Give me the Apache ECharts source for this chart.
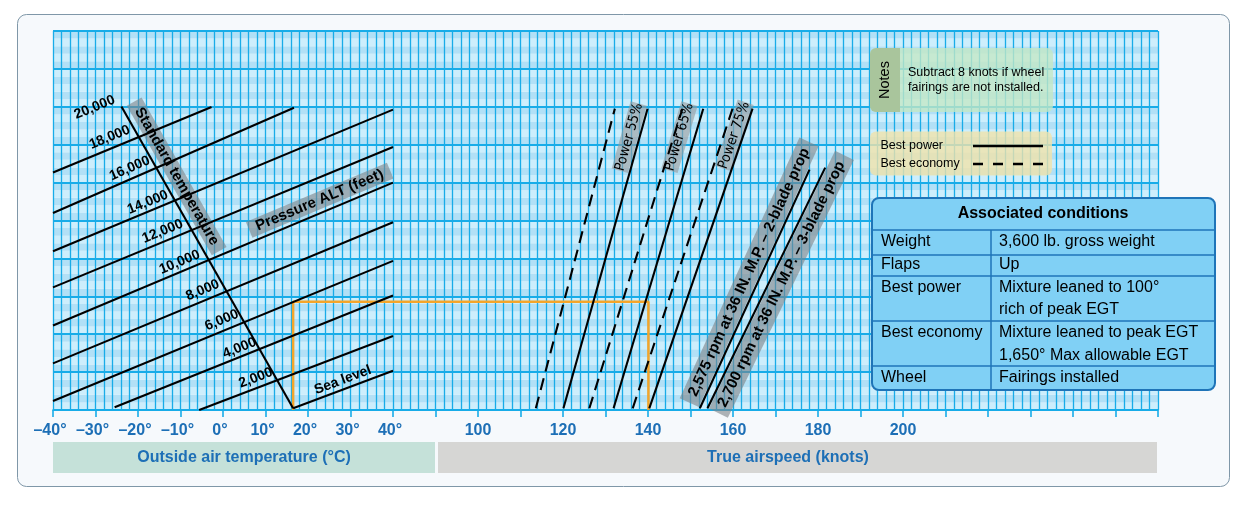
<!DOCTYPE html>
<html><head><meta charset="utf-8">
<script src="https://cdn.jsdelivr.net/npm/echarts@6/dist/echarts.min.js"></script>
<style>html,body{margin:0;padding:0;background:#fff}#c{width:1245px;height:509px}</style>
</head><body><div id="c"></div>
<script>
// ---------------- DATA ----------------
const tempTicks = [-40, -30, -20, -10, 0, 10, 20, 30, 40];          // °C
const knotTicks = [100, 120, 140, 160, 180, 200];                    // knots
// Pressure altitude lines: [temperature °C, density altitude ft]
const altNames = ['18,000', '16,000', '14,000', '12,000', '10,000', '8,000', '6,000', '4,000', '2,000', 'Sea level'];
const altLineStart = [[-40, 12530], [-40, 10400], [-40, 8380], [-40, 6470], [-40, 4460], [-40, 2460], [-40, 470], [-25.5, 140], [-5.6, 0], [16.5, 90]];
const altLineEnd = [[-2.7, 15990], [16.7, 15950], [40, 15850], [40, 13880], [40, 12000], [40, 9910], [40, 7870], [40, 6040], [40, 3900], [40, 2070]];
const stdTempLine = [[-23.9, 16020], [16.5, 90]];
// Power lines: [knots] at bottom / top of altitude range
const powerNames = ['Power 55%', 'Power 65%', 'Power 75%'];
const powerAltRange = [90, 15900];
const bestPowerBottom = [120.1, 131.9, 140.3];
const bestPowerTop = [139.9, 153.0, 164.6];
const bestEconBottom = [113.6, 126.2, 136.4];
const bestEconTop = [132.2, 148.1, 159.9];
// Full-throttle lines: [knots, density altitude ft]
const rpmNames = ['2,575 rpm at 36 IN. M.P. \u2013 2-blade prop', '2,700 rpm at 36 IN. M.P. \u2013 3-blade prop'];
const rpmStart = [[152.2, 90], [154.0, 90]];
const rpmEnd = [[178.0, 12685], [181.7, 12790]];
// Example path
const exampleTemp = 16.5, exampleAlt = 5710, exampleKnots = 140.1;

// ---------------- CONFIG ----------------
const TEMP_MIN = -40, TEMP_MAX = 220, KNOT_MIN = 0, KNOT_MAX = 260;
const KNOT_OFFSET = KNOT_MIN - TEMP_MIN;
const GRID = '#18ace8', BLUE = '#1d6fb6';
const FONT = '"Liberation Sans", Arial, sans-serif';
const NARROW = '"Liberation Sans Narrow", "DejaVu Sans Condensed", sans-serif';

const chart = echarts.init(document.getElementById('c'));
const lineBase = { type: 'line', symbol: 'none', silent: true, animation: false, z: 3, yAxisIndex: 0 };
const series = [];
series.push(Object.assign({}, lineBase, {
  xAxisIndex: 1, z: 2,
  data: [[exampleTemp + KNOT_OFFSET, 0], [exampleTemp + KNOT_OFFSET, exampleAlt], [exampleKnots, exampleAlt], [exampleKnots, 0]],
  lineStyle: { color: '#f4a52a', width: 2.5 }
}));
altNames.forEach((n, i) => series.push(Object.assign({}, lineBase, {
  xAxisIndex: 0, data: [altLineStart[i], altLineEnd[i]], lineStyle: { color: '#000', width: 2.1 }
})));
series.push(Object.assign({}, lineBase, { xAxisIndex: 0, data: stdTempLine, lineStyle: { color: '#000', width: 2.1 } }));
powerNames.forEach((n, i) => {
  series.push(Object.assign({}, lineBase, { xAxisIndex: 1,
    data: [[bestPowerBottom[i], powerAltRange[0]], [bestPowerTop[i], powerAltRange[1]]],
    lineStyle: { color: '#000', width: 2.1 } }));
  series.push(Object.assign({}, lineBase, { xAxisIndex: 1,
    data: [[bestEconBottom[i], powerAltRange[0]], [bestEconTop[i], powerAltRange[1]]],
    lineStyle: { color: '#000', width: 2.1, type: [12, 7] } }));
});
rpmNames.forEach((n, i) => series.push(Object.assign({}, lineBase, {
  xAxisIndex: 1, data: [rpmStart[i], rpmEnd[i]], lineStyle: { color: '#000', width: 2.1 }
})));

const labelStyle = { color: BLUE, fontWeight: 'bold', fontSize: 16, fontFamily: FONT, margin: 13 };
chart.setOption({
  backgroundColor: '#ffffff',
  animation: false,
  grid: { left: 53, right: 87, top: 31, bottom: 99, containLabel: false },
  xAxis: [
    { type: 'value', min: TEMP_MIN, max: TEMP_MAX, interval: 10, position: 'bottom', z: 1,
      axisLine: { show: true, lineStyle: { color: GRID, width: 1.6 } },
      axisTick: { show: true, length: 7, lineStyle: { color: GRID, width: 1.6 } },
      splitLine: { show: true, lineStyle: { color: GRID, width: 1.3 } },
      minorTick: { show: false, splitNumber: 5 },
      minorSplitLine: { show: true, lineStyle: { color: GRID, width: 1.3 } },
      axisLabel: Object.assign({}, labelStyle, { padding: [0, 6, 0, 0],
        formatter: v => tempTicks.indexOf(v) >= 0 ? (v < 0 ? '\u2013' + (-v) : v) + '\u00b0' : '' }) },
    { type: 'value', min: KNOT_MIN, max: KNOT_MAX, interval: 10, position: 'bottom', z: 1,
      axisLine: { show: false }, axisTick: { show: false }, splitLine: { show: false },
      axisLabel: Object.assign({}, labelStyle, { formatter: v => knotTicks.indexOf(v) >= 0 ? String(v) : '' }) }
  ],
  yAxis: [
    { type: 'value', min: 0, max: 20000, interval: 2000, z: 1,
      axisLine: { show: false }, axisTick: { show: false }, axisLabel: { show: false },
      splitLine: { show: true, lineStyle: { color: GRID, width: 1.8 } } },
    { type: 'value', min: 0, max: 20000, interval: 400, z: 0,
      axisLine: { show: false }, axisTick: { show: false }, axisLabel: { show: false },
      splitLine: { show: false },
      splitArea: { show: true, areaStyle: { color: ['#cdeefc', '#b2e0f6'] } } }
  ],
  series: series
});

// ---------------- ANNOTATIONS ----------------
function toPx(xi, pt) { return chart.convertToPixel({ xAxisIndex: xi, yAxisIndex: 0 }, pt); }
function angleOf(xi, a, b) { const p = toPx(xi, a), q = toPx(xi, b); return Math.atan2(-(q[1] - p[1]), q[0] - p[0]); }
const g = [];
function rotLabel(xi, at, ang, text, font, box) {
  const c = toPx(xi, at);
  const children = [];
  if (box) children.push({ type: 'rect', z: 2, silent: true,
    shape: { x: -box[0] / 2, y: -box[1] / 2, width: box[0], height: box[1] }, style: { fill: box[2] } });
  children.push({ type: 'text', z: 4, silent: true,
    style: { text: text, font: font, fill: '#000', align: 'center', verticalAlign: 'middle', textAlign: 'center', textVerticalAlign: 'middle' } });
  g.push({ type: 'group', x: c[0], y: c[1], rotation: ang, silent: true, children: children });
}
// frame
g.push({ type: 'rect', z: -10, silent: true, shape: { x: 17.5, y: 14.5, width: 1212, height: 472, r: 9 },
  style: { fill: '#f6f9fc', stroke: '#7f97a8', lineWidth: 1 } });
// altitude labels
const altLabelNames = ['20,000'].concat(altNames);
const altLabelAt = [[-30.2, 15970], [-26.65, 14390], [-21.95, 12750], [-17.7, 10960], [-14.2, 9430], [-10.2, 7800], [-4.8, 6320], [-0.3, 4740], [3.9, 3270], [7.7, 1690], [28.2, 1580]];
altLabelNames.forEach((n, i) => {
  const li = Math.max(0, i - 1);
  rotLabel(0, altLabelAt[i], angleOf(0, altLineStart[li], altLineEnd[li]), n, 'bold 14px ' + FONT, null);
});
const DARKBOX = 'rgba(125,130,135,0.6)';
rotLabel(0, [-10.9, 12330], angleOf(0, stdTempLine[0], stdTempLine[1]), 'Standard temperature', 'bold 15px ' + FONT, [172, 17, DARKBOX]);
rotLabel(0, [22.75, 11070], angleOf(0, altLineStart[4], altLineEnd[4]), 'Pressure ALT (feet)', 'bold 15px ' + FONT, [153, 17, DARKBOX]);
const powerLabelAt = [[135.6, 14400], [147.4, 14400], [160.3, 14490]];
powerNames.forEach((n, i) => {
  const ang = angleOf(1, [bestPowerBottom[i], powerAltRange[0]], [bestPowerTop[i], powerAltRange[1]]);
  rotLabel(1, powerLabelAt[i], ang, n, '14px ' + NARROW, [70, 17, 'rgba(150,155,158,0.62)']);
});
const rpmLabelAt = [[163.8, 7270], [171.4, 6640]];
rpmNames.forEach((n, i) => rotLabel(1, rpmLabelAt[i], angleOf(1, rpmStart[i], rpmEnd[i]), n, 'bold 15px ' + FONT, [287, 21, DARKBOX]));

// bottom title bars
g.push({ type: 'rect', z: 1, silent: true, shape: { x: 53, y: 442, width: 382, height: 31 }, style: { fill: '#c5e1d9' } });
g.push({ type: 'rect', z: 1, silent: true, shape: { x: 438, y: 442, width: 719, height: 31 }, style: { fill: '#d6d6d4' } });
function txt(x, y, text, font, color, align) {
  g.push({ type: 'text', x: x, y: y, z: 6, silent: true,
    style: { text: text, font: font, fill: color || '#000', align: align || 'left', verticalAlign: 'middle', textAlign: align || 'left', textVerticalAlign: 'middle' } });
}
txt(244, 457.5, 'Outside air temperature (\u00b0C)', 'bold 16px ' + FONT, BLUE, 'center');
txt(788, 457.5, 'True airspeed (knots)', 'bold 16px ' + FONT, BLUE, 'center');

// notes box
g.push({ type: 'rect', z: 5, silent: true, shape: { x: 870, y: 48, width: 183, height: 64, r: 6 }, style: { fill: 'rgba(196,232,196,0.78)' } });
g.push({ type: 'rect', z: 5, silent: true, shape: { x: 870, y: 48, width: 30, height: 64, r: [6, 0, 0, 6] }, style: { fill: '#a9c59c' } });
g.push({ type: 'text', x: 885, y: 80, rotation: Math.PI / 2, z: 6, silent: true,
  style: { text: 'Notes', font: '14.5px ' + FONT, fill: '#000', align: 'center', verticalAlign: 'middle', textAlign: 'center', textVerticalAlign: 'middle' } });
txt(908, 72.5, 'Subtract 8 knots if wheel', '12.5px ' + FONT);
txt(908, 87.5, 'fairings are not installed.', '12.5px ' + FONT);

// legend box
g.push({ type: 'rect', z: 5, silent: true, shape: { x: 870, y: 131.5, width: 182, height: 44, r: 6 }, style: { fill: 'rgba(240,226,170,0.8)' } });
txt(880.5, 145.5, 'Best power', '12.5px ' + FONT);
txt(880.5, 163.5, 'Best economy', '12.5px ' + FONT);
g.push({ type: 'line', z: 6, silent: true, shape: { x1: 973, y1: 146, x2: 1043, y2: 146 }, style: { stroke: '#000', lineWidth: 2.5 } });
g.push({ type: 'line', z: 6, silent: true, shape: { x1: 973, y1: 164, x2: 1043, y2: 164 }, style: { stroke: '#000', lineWidth: 2.5, lineDash: [10, 10] } });

// associated conditions table
const TB = { x: 872, y: 198, w: 343, h: 192, col: 991 };
const LINE = '#1f74b8';
g.push({ type: 'rect', z: 5, silent: true, shape: { x: TB.x, y: TB.y, width: TB.w, height: TB.h, r: 7 }, style: { fill: '#80d0f5', stroke: LINE, lineWidth: 2 } });
[230, 255, 276, 321, 366].forEach(y => g.push({ type: 'line', z: 6, silent: true, shape: { x1: TB.x, y1: y, x2: TB.x + TB.w, y2: y }, style: { stroke: LINE, lineWidth: 1.5 } }));
g.push({ type: 'line', z: 6, silent: true, shape: { x1: TB.col, y1: 230, x2: TB.col, y2: TB.y + TB.h }, style: { stroke: LINE, lineWidth: 1.5 } });
txt(1043, 214, 'Associated conditions', 'bold 16px ' + FONT, '#000', 'center');
const tblLeft = [['Weight', 242], ['Flaps', 265], ['Best power', 288], ['Best economy', 333], ['Wheel', 378]];
const tblRight = [['3,600 lb. gross weight', 242], ['Up', 265], ['Mixture leaned to 100\u00b0', 288], ['rich of peak EGT', 310],
  ['Mixture leaned to peak EGT', 333], ['1,650\u00b0 Max allowable EGT', 356], ['Fairings installed', 378]];
tblLeft.forEach(r => txt(881, r[1], r[0], '16px ' + FONT));
tblRight.forEach(r => txt(999, r[1], r[0], '16px ' + FONT));

chart.setOption({ graphic: { elements: g } });
</script></body></html>
